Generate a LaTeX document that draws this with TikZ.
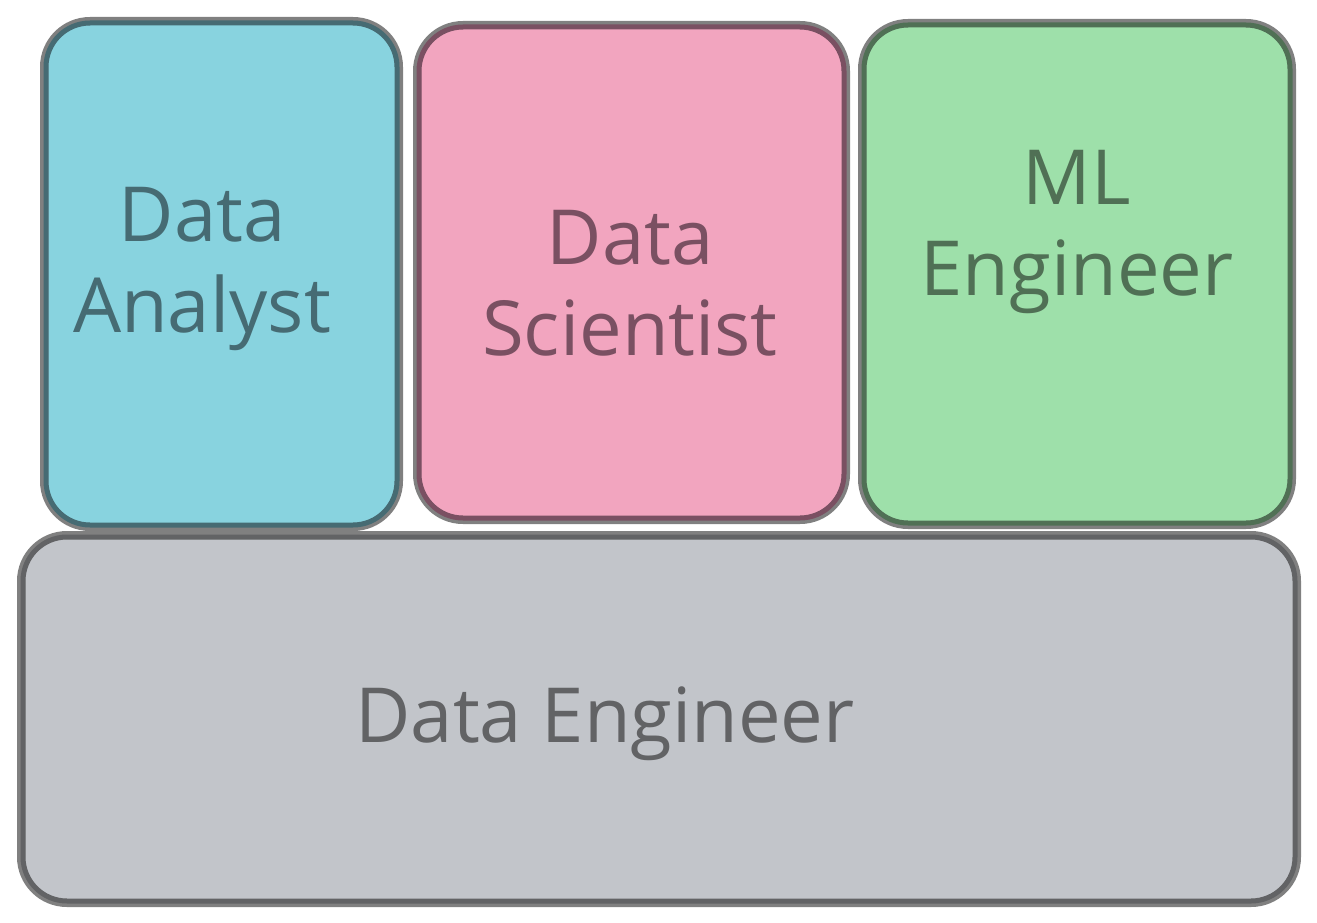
\documentclass[tikz,border=0pt]{standalone}
\usepackage{fontspec}
\setmainfont{Open Sans}
\usepackage{tikz}

\definecolor{halogray}{HTML}{808080}
\definecolor{analystfill}{HTML}{88D3DF}
\definecolor{analystink}{HTML}{466B73}
\definecolor{scientistfill}{HTML}{F2A5BF}
\definecolor{scientistink}{HTML}{7A5062}
\definecolor{mlfill}{HTML}{9EE0AA}
\definecolor{mlink}{HTML}{507055}
\definecolor{engfill}{HTML}{C2C5CA}
\definecolor{engink}{HTML}{626365}

\begin{document}
\begin{tikzpicture}[x=1pt, y=-1pt,
    rolebox/.style={rectangle, draw=halogray, line width=8pt, outer sep=0pt, rounded corners=46pt, inner sep=0pt},
    rim/.style={draw=#1, line width=5pt, rounded corners=44pt},
    rolename/.style={anchor=base, align=center, text=#1, font=\fontsize{76}{91}\selectfont}]
    \useasboundingbox (0,0) rectangle (1317,923);

    % Data Engineer (base layer)
    \node[rolebox, fill=engfill, minimum width=1276pt, minimum height=368pt] (de) at (659,719) {};
    \draw[rim=engink] ([shift={(2pt,-2pt)}]de.north west) rectangle ([shift={(-2pt,2pt)}]de.south east);
    \node[rolename=engink] (detext) at (605,742) {Data Engineer};

    % Data Analyst
    \node[rolebox, fill=analystfill, minimum width=355pt, minimum height=506pt] (da) at (221.5,274) {};
    \draw[rim=analystink] ([shift={(2pt,-2pt)}]da.north west) rectangle ([shift={(-2pt,2pt)}]da.south east);
    \node[rolename=analystink] (datext) at (202,332) {Data\\Analyst};

    % Data Scientist
    \node[rolebox, fill=scientistfill, minimum width=429pt, minimum height=495pt] (ds) at (631.5,272.5) {};
    \draw[rim=scientistink] ([shift={(2pt,-2pt)}]ds.north west) rectangle ([shift={(-2pt,2pt)}]ds.south east);
    \node[rolename=scientistink] (dstext) at (630,355) {Data\\Scientist};

    % ML Engineer
    \node[rolebox, fill=mlfill, minimum width=430pt, minimum height=502pt] (ml) at (1077,274) {};
    \draw[rim=mlink] ([shift={(2pt,-2pt)}]ml.north west) rectangle ([shift={(-2pt,2pt)}]ml.south east);
    \node[rolename=mlink] (mltext) at (1077,295) {ML\\Engineer};
\end{tikzpicture}
\end{document}
